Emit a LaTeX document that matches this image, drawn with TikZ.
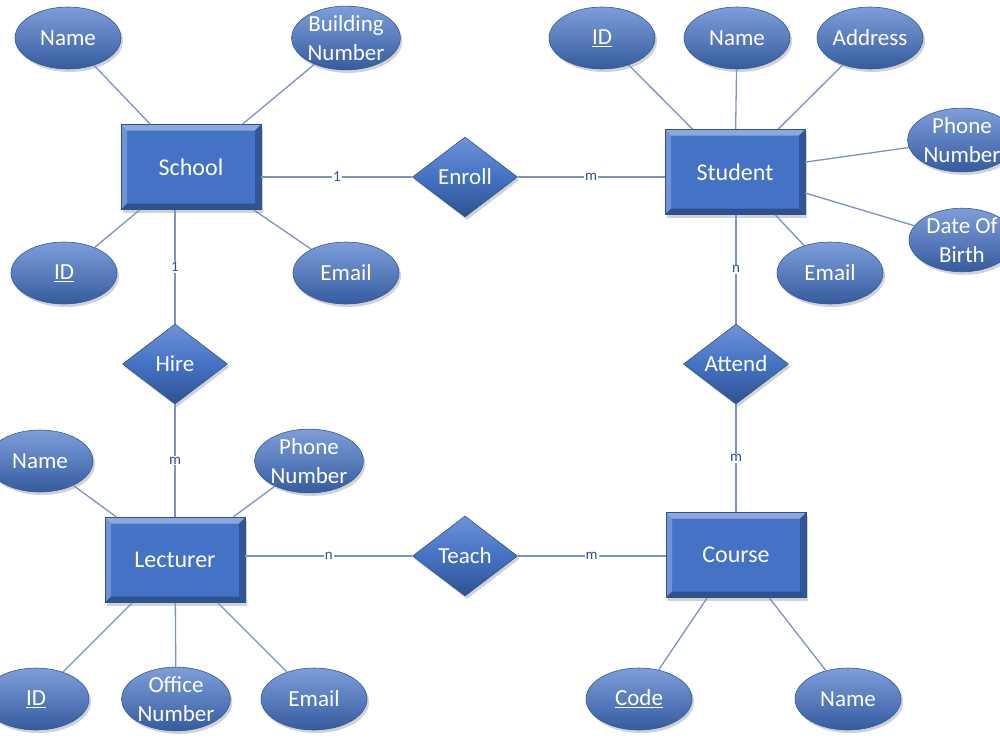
\documentclass[tikz,border=0pt]{standalone}
\usepackage{fontspec}
\setmainfont{Carlito}
\usetikzlibrary{shapes.geometric,shadows}
\definecolor{erblue}{HTML}{4472C4}
\definecolor{erdark}{HTML}{2F528F}
\definecolor{erlight}{HTML}{6F93D6}
\definecolor{erline}{HTML}{7A93C2}
\definecolor{erlab}{HTML}{2F4F8F}
\tikzset{
  ent/.style={rectangle, minimum width=140pt, minimum height=85pt, fill=erblue, draw=erdark, line width=0.8pt,
    font=\fontsize{24}{26}\selectfont, text=white,
    drop shadow={shadow xshift=2pt, shadow yshift=-3pt, opacity=0.35},
    path picture={
      \fill[erlight] (path picture bounding box.south west) -- (path picture bounding box.north west) -- ++(6pt,-6pt) -- ([xshift=6pt,yshift=6pt]path picture bounding box.south west) -- cycle;
      \fill[erlight!80!white] (path picture bounding box.north west) -- (path picture bounding box.north east) -- ++(-6pt,-6pt) -- ([xshift=6pt,yshift=-6pt]path picture bounding box.north west) -- cycle;
      \fill[erdark] (path picture bounding box.south west) -- (path picture bounding box.south east) -- ++(-6pt,6pt) -- ([xshift=6pt,yshift=6pt]path picture bounding box.south west) -- cycle;
      \fill[erdark!85!erblue] (path picture bounding box.south east) -- (path picture bounding box.north east) -- ++(-6pt,-6pt) -- ([xshift=-6pt,yshift=6pt]path picture bounding box.south east) -- cycle;
    }},
  rel/.style={diamond, aspect=1.3, minimum width=105pt, minimum height=80pt, inner sep=0pt,
    top color=erlight, bottom color=erdark, middle color=erblue, draw=erdark, line width=0.6pt,
    font=\fontsize{23}{26}\selectfont, text=white,
    drop shadow={shadow xshift=2pt, shadow yshift=-3pt, opacity=0.35}},
  att/.style={ellipse, minimum width=106pt, minimum height=62pt, inner sep=0pt,
    top color=erlight!90!white, middle color=erblue!92!white, bottom color=erdark!70!erblue, draw=erdark!80!erblue, line width=0.6pt,
    font=\fontsize{23}{29}\selectfont, text=white, align=center,
    drop shadow={shadow xshift=2pt, shadow yshift=-3pt, opacity=0.35}},
  conn/.style={draw=erline, line width=1.3pt},
  card/.style={fill=white, text=erlab, font=\fontsize{15}{15}\selectfont, inner sep=1pt}
}
\begin{document}
\begin{tikzpicture}[x=1pt,y=-1pt]
\useasboundingbox (0,0) rectangle (1000,750);
\clip (0,0) rectangle (1000,750);
\fill[white] (0,0) rectangle (1000,750);
% entities
\node[ent] (sch) at (191,167) {School};
\node[ent] (stu) at (735,172) {Student};
\node[ent] (lec) at (175,560) {Lecturer};
\node[ent] (cou) at (736,555) {Course};
% relationships
\node[rel] (enr) at (465,177) {Enroll};
\node[rel] (hir) at (175,364) {Hire};
\node[rel] (atd) at (736,364) {Attend};
\node[rel] (tea) at (465,556) {Teach};
% attributes
\node[att] (sname) at (68,38) {Name};
\node[att] (sbld) at (346,38) {Building\\Number};
\node[att] (sid) at (64,273) {\underline{ID}};
\node[att] (smail) at (346,273) {Email};
\node[att] (tid) at (602,38) {\underline{ID}};
\node[att] (tname) at (737,38) {Name};
\node[att] (taddr) at (870,38) {Address};
\node[att] (tphone) at (962,140) {Phone\\Number};
\node[att] (tdob) at (962,240) {Date Of\\Birth};
\node[att] (tmail) at (830,273) {Email};
\node[att] (lname) at (40,461) {Name};
\node[att] (lphone) at (309,461) {Phone\\Number};
\node[att] (lid) at (36,699) {\underline{ID}};
\node[att] (loff) at (176,699) {Office\\Number};
\node[att] (lmail) at (314,699) {Email};
\node[att] (ccode) at (639,699) {\underline{Code}};
\node[att] (cname) at (848,699) {Name};
% connectors
\foreach \a/\b in {sch/sname,sch/sbld,sch/sid,sch/smail,stu/tid,stu/tname,stu/taddr,stu/tphone,stu/tdob,stu/tmail,lec/lname,lec/lphone,lec/lid,lec/loff,lec/lmail,cou/ccode,cou/cname}
  \draw[conn] (\a) -- (\b);
\draw[conn] (sch.east |- enr) -- node[card]{1} (enr);
\draw[conn] (enr) -- node[card]{m} (stu.west |- enr);
\draw[conn] (hir |- sch.south) -- node[card]{1} (hir);
\draw[conn] (hir) -- node[card]{m} (hir |- lec.north);
\draw[conn] (atd |- stu.south) -- node[card]{n} (atd);
\draw[conn] (atd) -- node[card]{m} (atd |- cou.north);
\draw[conn] (lec.east |- tea) -- node[card]{n} (tea);
\draw[conn] (tea) -- node[card]{m} (cou.west |- tea);
\end{tikzpicture}
\end{document}
